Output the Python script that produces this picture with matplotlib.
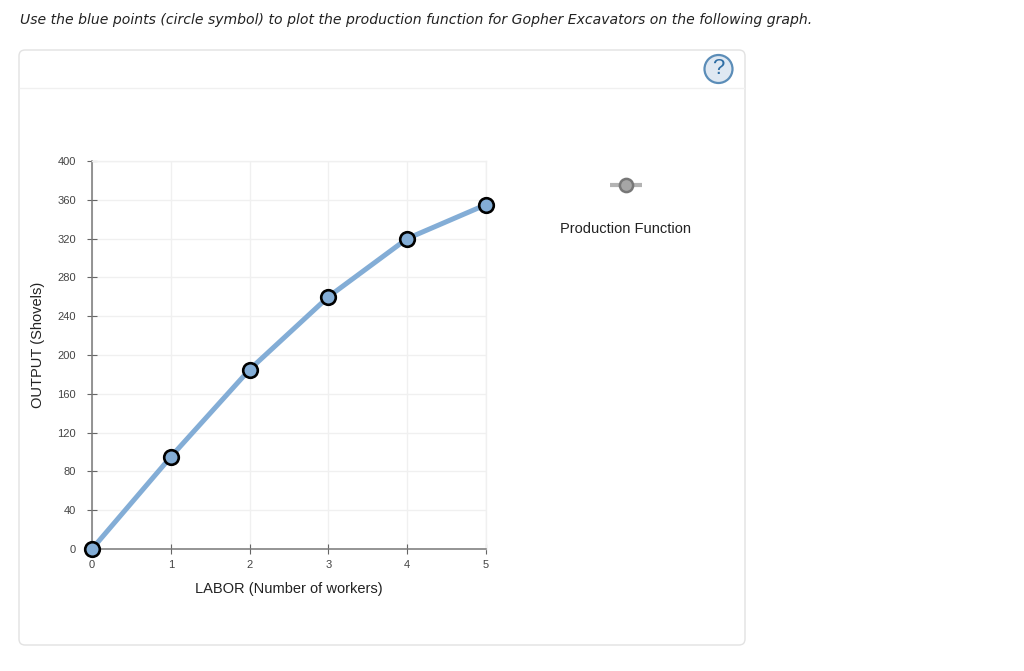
import matplotlib
matplotlib.use("Agg")
import matplotlib.pyplot as plt
from matplotlib.patches import FancyBboxPatch, Circle

# DATA
labor = [0, 1, 2, 3, 4, 5]
output = [0, 95, 185, 260, 320, 355]
y_ticks = [0, 40, 80, 120, 160, 200, 240, 280, 320, 360, 400]
question = "Use the blue points (circle symbol) to plot the production function for Gopher Excavators on the following graph."
x_label = "LABOR (Number of workers)"
y_label = "OUTPUT (Shovels)"
legend_label = "Production Function"

W, H = 1024, 671
plt.rcParams['font.family'] = ['Liberation Sans', 'DejaVu Sans']

fig = plt.figure(figsize=(W / 100, H / 100), dpi=100)

# page layer in pixel coordinates
bg = fig.add_axes([0, 0, 1, 1])
bg.set_xlim(0, W)
bg.set_ylim(H, 0)
bg.axis('off')

bg.text(20, 20, question, family='DejaVu Sans', style='italic', fontsize=10.05,
        color='#222222', va='center', ha='left')

card = FancyBboxPatch((24, 55), 716, 585, boxstyle="round,pad=0,rounding_size=5",
                      fc='white', ec='#e2e2e2', lw=1)
card.set_boxstyle("round,pad=5,rounding_size=6")
bg.add_patch(card)
bg.plot([20, 744], [88, 88], color='#f0f0f0', lw=1)

# help icon
bg.add_patch(Circle((718.5, 69), 14, fc='#dfe8f2', ec='#5b8db8', lw=1.6))
bg.text(718.5, 69, "?", fontsize=16, color='#2f6ea5', ha='center', va='center')

# legend
bg.plot([610, 642], [185, 185], color='#b3b3b3', lw=3, solid_capstyle='butt')
bg.plot([626], [185], 'o', ms=9.5, mfc='#a6a6a6', mec='#777777', mew=1.8)
bg.text(626, 229, legend_label, fontsize=10.5, color='#222222', ha='center', va='center')

# chart
ax = fig.add_axes([92 / W, (H - 549) / H, 394 / W, 388 / H])
ax.patch.set_alpha(0)
ax.set_xlim(0, 5)
ax.set_ylim(0, 400)
ax.set_xticks(labor)
ax.set_yticks(y_ticks)
ax.grid(True, color='#f0f0f0', lw=1)
ax.set_axisbelow(True)
ax.tick_params(direction='inout', length=7.2, width=0.8, color='#666666',
               labelcolor='#444444', labelsize=8)
ax.tick_params(axis='x', pad=4)
ax.tick_params(axis='y', pad=8)

for side in ['top', 'right']:
    ax.spines[side].set_color('#f0f0f0')
    ax.spines[side].set_linewidth(1)
for side in ['left', 'bottom']:
    ax.spines[side].set_color('#777777')
    ax.spines[side].set_linewidth(1.1)

ax.plot(labor, output, color='#83add6', lw=3.6, clip_on=False, zorder=3,
        solid_capstyle='butt')
ax.plot(labor, output, 'o', ms=10.5, mfc='#83add6', mec='black', mew=1.9,
        clip_on=False, zorder=4)

bg.text(289, 589, x_label, fontsize=10.5, color='#222222', ha='center', va='center')
bg.text(38, 345, y_label, fontsize=10.5, color='#222222', ha='center', va='center',
        rotation=90)

fig.savefig('out.png', dpi=100)
